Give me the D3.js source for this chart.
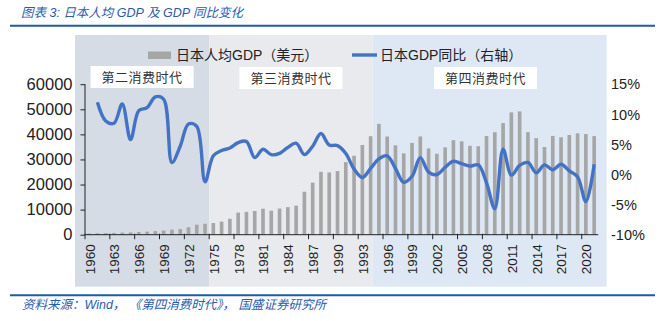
<!DOCTYPE html>
<html lang="zh">
<head>
  <meta charset="UTF-8">
  <script src="https://d3js.org/d3.v7.min.js"></script>
  <title>日本人均GDP及GDP同比变化</title>
  <style>
    body { margin: 0; background: #fff; }
    text { font-family: "Liberation Sans", Arial, "Noto Sans CJK SC", sans-serif; }
    .cjk { font-family: "Liberation Sans", "Noto Sans CJK SC", sans-serif; }
  </style>
</head>
<body>
  <svg width="671" height="321"></svg>
  <script>
    // 数据
    var years = d3.range(1960, 2022);
    var gdpPerCapita = [
      475, 564, 633, 718, 835, 919, 1059, 1229, 1451, 1669,
      2038, 2272, 2967, 3998, 4354, 4659, 5198, 6335, 8821, 9105,
      9463, 10361, 9578, 10425, 10984, 11585, 17112, 20745, 25052, 24813,
      25359, 28925, 31465, 35766, 39269, 44198, 39150, 35636, 32424, 36610,
      39169, 34406, 32289, 34808, 37688, 37218, 35434, 35275, 39339, 40855,
      44508, 48760, 49145, 40898, 38475, 34961, 39375, 38834, 39751, 40416,
      40113, 39313
    ];
    var gdpGrowth = [
      null, 12.0, 8.9, 8.5, 11.7, 5.8, 10.6, 11.1, 12.9, 12.5,
      2.0, 4.7, 8.4, 8.0, -1.2, 3.1, 4.0, 4.4, 5.3, 5.5,
      2.8, 4.2, 3.3, 3.5, 4.5, 5.2, 3.3, 4.7, 6.8, 4.9,
      4.8, 3.5, 0.9, -0.5, 1.0, 2.6, 3.1, 1.0, -1.3, -0.3,
      2.8, 0.4, 0.0, 1.2, 2.2, 1.8, 1.4, 1.6, -1.4, -5.7,
      4.2, -0.1, 1.5, 2.0, 0.3, 1.6, 0.8, 1.7, 0.6, -0.4,
      -4.5, 1.7
    ];
    var leftTicks = [0, 10000, 20000, 30000, 40000, 50000, 60000];
    var rightTicks = [-10, -5, 0, 5, 10, 15];
    var eraNames = ["第二消费时代", "第三消费时代", "第四消费时代"];
    var eraStarts = [1959, 1975, 1994.75];   // 背景分区起点（年）

    var svg = d3.select("svg");
    var margin = {left: 85, right: 72.7, top: 84.2, bottom: 86.3};
    var plotRight = 671 - margin.right;
    var plotBottom = 321 - margin.bottom;

    var x = d3.scaleBand().domain(years).range([margin.left, plotRight]).paddingInner(0.56).paddingOuter(0.28);
    var step = x.step();
    var x0 = margin.left;
    function xYear(y) { return x0 + (y - 1960) * step; }

    var yL = d3.scaleLinear().domain([0, 60000]).range([plotBottom, margin.top]);
    var yR = d3.scaleLinear().domain([-10, 15]).range([plotBottom, margin.top]);

    // 背景分区
    var bgColors = ["#d6dce5", "#e8eaee", "#dee8f4"];
    var bgTop = 35, bgBottom = 286.7, bgRight = 606.7;
    var eraEdges = eraStarts.map(function(d, i){ return i === 0 ? 75 : xYear(d); }).concat([bgRight]);
    svg.selectAll(".era").data(eraNames).enter().append("rect")
      .attr("x", function(d, i){ return eraEdges[i]; })
      .attr("y", bgTop)
      .attr("width", function(d, i){ return eraEdges[i + 1] - eraEdges[i]; })
      .attr("height", bgBottom - bgTop)
      .attr("fill", function(d, i){ return bgColors[i]; });

    // 分区标签
    var boxW = 103, boxH = 22;
    var boxCenters = [
      (eraEdges[0] + eraEdges[1]) / 2,
      (eraEdges[1] + eraEdges[2]) / 2,
      (eraEdges[2] + plotRight) / 2
    ];
    var boxes = svg.selectAll(".ebox").data(eraNames).enter().append("g");
    boxes.append("rect")
      .attr("x", function(d, i){ return boxCenters[i] - boxW / 2; })
      .attr("y", function(d, i){ return i === 0 ? 66 : 67; })
      .attr("width", boxW).attr("height", boxH)
      .attr("fill", "#fff");
    boxes.append("text")
      .attr("class", "cjk")
      .attr("x", function(d, i){ return boxCenters[i]; })
      .attr("y", function(d, i){ return (i === 0 ? 66 : 67) + boxH / 2; })
      .attr("dy", "0.36em")
      .attr("text-anchor", "middle")
      .attr("font-size", 13)
      .attr("letter-spacing", 0.5)
      .attr("fill", "#333")
      .text(function(d){ return d; });

    // 柱子
    svg.selectAll(".bar").data(years).enter().append("rect")
      .attr("x", function(d){ return x(d); })
      .attr("y", function(d, i){ return yL(gdpPerCapita[i]); })
      .attr("width", x.bandwidth())
      .attr("height", function(d, i){ return plotBottom - yL(gdpPerCapita[i]); })
      .attr("fill", "#a6a6a6");

    // 折线
    var line = d3.line()
      .defined(function(d){ return d[1] != null; })
      .x(function(d){ return x(d[0]) + x.bandwidth() / 2; })
      .y(function(d){ return yR(d[1]); })
      .curve(d3.curveCatmullRom.alpha(0.5));
    svg.append("path")
      .datum(years.map(function(d, i){ return [d, gdpGrowth[i]]; }))
      .attr("d", line)
      .attr("fill", "none")
      .attr("stroke", "#4472c4")
      .attr("stroke-width", 3.4)
      .attr("stroke-linejoin", "round");

    // 左轴
    var leftAxis = svg.append("g")
      .attr("transform", "translate(" + margin.left + ",0)")
      .call(d3.axisLeft(yL).tickValues(leftTicks).tickSize(4.5).tickPadding(8).tickFormat(d3.format("d")));
    leftAxis.select(".domain").attr("d", "M0," + margin.top + "V" + plotBottom).attr("stroke", "#222");
    leftAxis.selectAll(".tick line").attr("stroke", "#222");
    leftAxis.selectAll("text").attr("font-size", 16.5).attr("fill", "#222")
      .attr("font-family", "'Liberation Sans', Arial, sans-serif");

    // 右轴（仅标签）
    svg.append("g").selectAll("text").data(rightTicks).enter().append("text")
      .attr("x", 611)
      .attr("y", function(d){ return yR(d); })
      .attr("dy", "0.36em")
      .attr("font-size", 14.5)
      .attr("fill", "#222")
      .text(function(d){ return d + "%"; });

    // 横轴
    var labelYears = years.filter(function(d){ return (d - 1960) % 3 === 0; });
    svg.append("line")
      .attr("x1", margin.left).attr("x2", plotRight)
      .attr("y1", plotBottom).attr("y2", plotBottom)
      .attr("stroke", "#222");
    svg.selectAll(".xtick").data(labelYears).enter().append("line")
      .attr("x1", function(d){ return xYear(d); })
      .attr("x2", function(d){ return xYear(d); })
      .attr("y1", plotBottom - 1).attr("y2", plotBottom + 4.5)
      .attr("stroke", "#222");
    svg.selectAll(".xlabel").data(labelYears).enter().append("text")
      .attr("transform", function(d){ return "translate(" + (x(d) + x.bandwidth() / 2 + 0.5) + "," + (plotBottom + 9.5) + ") rotate(-90)"; })
      .attr("text-anchor", "end")
      .attr("dy", "0.36em")
      .attr("font-size", 13.5)
      .attr("fill", "#222")
      .text(function(d){ return d; });

    // 图例
    svg.append("rect").attr("x", 148).attr("y", 51.5).attr("width", 23).attr("height", 7.5).attr("fill", "#a6a6a6");
    svg.append("text").attr("class", "cjk").attr("x", 176).attr("y", 55).attr("dy", "0.36em")
      .attr("font-size", 14).attr("fill", "#222").text("日本人均GDP（美元）");
    svg.append("line").attr("x1", 352).attr("x2", 377).attr("y1", 55).attr("y2", 55)
      .attr("stroke", "#4472c4").attr("stroke-width", 3.4);
    svg.append("text").attr("class", "cjk").attr("x", 380).attr("y", 55).attr("dy", "0.36em")
      .attr("font-size", 14).attr("fill", "#222").text("日本GDP同比（右轴）");

    // 标题与来源
    svg.append("text").attr("class", "cjk").attr("x", 21).attr("y", 12.5).attr("dy", "0.36em")
      .attr("font-size", 12.5).attr("font-style", "italic").attr("fill", "#2a5caa")
      .text("图表 3:  日本人均 GDP 及 GDP 同比变化");
    svg.append("line").attr("x1", 10).attr("x2", 655).attr("y1", 25.7).attr("y2", 25.7)
      .attr("stroke", "#1f5aa6").attr("stroke-width", 2);
    svg.append("line").attr("x1", 10).attr("x2", 655).attr("y1", 295.3).attr("y2", 295.3)
      .attr("stroke", "#1f5aa6").attr("stroke-width", 2);
    svg.append("text").attr("class", "cjk").attr("x", 22).attr("y", 304.5).attr("dy", "0.36em")
      .attr("font-size", 12.5).attr("font-style", "italic").attr("fill", "#2a5caa")
      .text("资料来源：Wind， 《第四消费时代》， 国盛证券研究所");
  </script>
</body>
</html>
